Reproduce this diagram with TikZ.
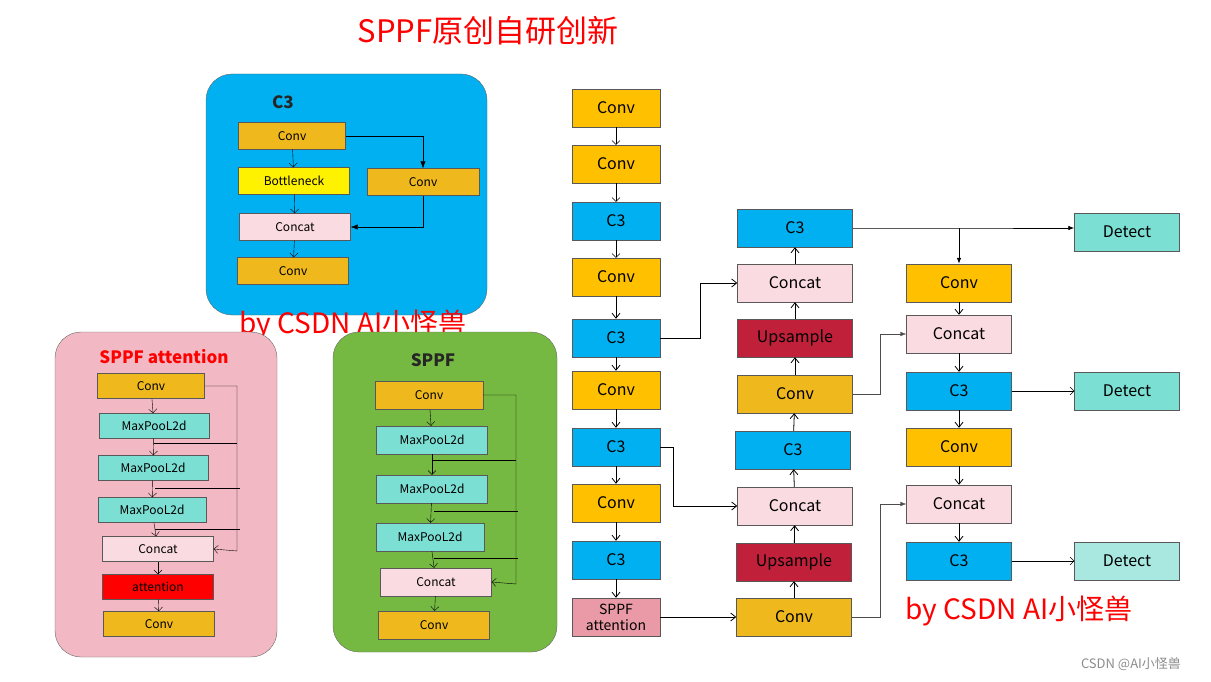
\documentclass[tikz,border=0pt]{standalone}
\usepackage{fontspec}
\setmainfont{Noto Sans CJK SC}
\usetikzlibrary{arrows.meta, positioning}
\definecolor{cthree}{RGB}{0,176,240}
\definecolor{convy}{RGB}{255,192,0}
\definecolor{convo}{RGB}{239,185,30}
\definecolor{concatc}{RGB}{250,219,225}
\definecolor{upc}{RGB}{192,32,58}
\definecolor{detc}{RGB}{124,223,212}
\definecolor{detl}{RGB}{168,232,225}
\definecolor{sppfa}{RGB}{233,154,166}
\definecolor{pinkp}{RGB}{242,185,196}
\definecolor{greenp}{RGB}{118,185,66}
\tikzstyle{big} = [rectangle, draw=black!65, inner sep=0pt, minimum height=38pt, align=center, font=\fontsize{16}{17}\selectfont]
\tikzstyle{small} = [rectangle, draw=black!65, inner sep=0pt, minimum width=110pt, minimum height=27pt, font=\fontsize{12}{13}\selectfont]
\tikzstyle{panel} = [draw=black!60, rounded corners=26pt]
\tikzstyle{arrow} = [-{Straight Barb[length=5pt,width=8pt]}, thick]
\tikzstyle{tarrow} = [-{Straight Barb[length=4pt,width=8pt]}]
\tikzstyle{wmark} = [text=red, font=\fontsize{28}{30}\selectfont]

\begin{document}
\begin{tikzpicture}[x=1pt, y=-1pt]
                \useasboundingbox (0,0) rectangle (1211,682);
                \node[text=red, font=\fontsize{31}{33}\selectfont] (title) at (488,31) {SPPF原创自研创新};
                % C3 panel
                \draw[panel, fill=cthree] (206,74) rectangle (487,315);
                \node[font=\bfseries\fontsize{17}{18}\selectfont, text=black!85] (ctitle) at (283,102) {C3};
                \node[small, fill=convo, minimum width=107pt] (cconv) at (292,136) {Conv};
                \node[small, fill=yellow, minimum width=111pt] (cbot) at (294,181) {Bottleneck};
                \node[small, fill=convo, minimum width=112pt] (cconvr) at (423,182) {Conv};
                \node[small, fill=concatc, minimum width=111pt] (ccat) at (295,227) {Concat};
                \node[small, fill=convo, minimum width=111pt] (cout) at (293,271) {Conv};
                \draw[tarrow] (cconv) -- (cbot);
                \draw[tarrow] (cbot) -- (ccat);
                \draw[tarrow] (ccat) -- (cout);
                \draw[-{Latex[length=7pt]}] (cconv.east) -| (cconvr.north);
                \draw[-{Latex[length=7pt]}] (cconvr.south) |- (ccat.east);
                \node[wmark] (mark1) at (353,325) {by CSDN AI小怪兽};
                % SPPF attention panel
                \draw[panel, fill=pinkp] (55,332) rectangle (277,657);
                \node[text=red, font=\bfseries\fontsize{17}{18}\selectfont] (atitle) at (164,357) {SPPF attention};
                \node[small, fill=convo, minimum width=107pt, minimum height=25pt] (aconv) at (151,386) {Conv};
                \node[small, fill=detc, minimum height=25pt] (amp1) at (154,426) {MaxPooL2d};
                \node[small, fill=detc, minimum height=25pt] (amp2) at (153,468) {MaxPooL2d};
                \node[small, fill=detc, minimum width=108pt, minimum height=25pt] (amp3) at (152,510) {MaxPooL2d};
                \node[small, fill=concatc, minimum width=111pt, minimum height=25pt] (acat) at (158,549) {Concat};
                \node[small, fill=red, minimum width=111pt, minimum height=25pt] (aatt) at (158,587) {attention};
                \node[small, fill=convo, minimum width=111pt, minimum height=25pt] (aout) at (159,624) {Conv};
                \draw[tarrow] (aconv) -- (amp1);
                \draw[tarrow] (amp1) -- (amp2);
                \draw[tarrow] (amp2) -- (amp3);
                \draw[tarrow] (amp3) -- (acat);
                \draw[tarrow] (acat) -- (aatt);
                \draw[tarrow] (aatt) -- (aout);
                \draw[tarrow] (aconv.east) -| (237,551) -- (acat.east);
                \draw (154,443) -- (237,443);
                \draw (155,488) -- (240,488);
                \draw (155,529) -- (240,529);
                % SPPF panel
                \draw[panel, fill=greenp] (333,332) rectangle (557,652);
                \node[font=\bfseries\fontsize{17}{18}\selectfont, text=black!85] (stitle) at (433,360) {SPPF};
                \node[small, fill=convo, minimum width=108pt, minimum height=28pt] (sconv) at (429,395) {Conv};
                \node[small, fill=detc, minimum width=111pt, minimum height=28pt] (smp1) at (432,440) {MaxPooL2d};
                \node[small, fill=detc, minimum width=111pt, minimum height=28pt] (smp2) at (432,489) {MaxPooL2d};
                \node[small, fill=detc, minimum width=108pt, minimum height=28pt] (smp3) at (430,537) {MaxPooL2d};
                \node[small, fill=concatc, minimum width=111pt, minimum height=28pt] (scat) at (436,582) {Concat};
                \node[small, fill=convo, minimum width=111pt, minimum height=28pt] (sout) at (434,625) {Conv};
                \draw[tarrow] (sconv) -- (smp1);
                \draw[tarrow] (smp1) -- (smp2);
                \draw[tarrow] (smp2) -- (smp3);
                \draw[tarrow] (smp3) -- (scat);
                \draw[tarrow] (scat) -- (sout);
                \draw[tarrow] (sconv.east) -| (516,584) -- (scat.east);
                \draw (432,460) -- (516,460);
                \draw (434,511) -- (518,511);
                \draw (434,558) -- (518,558);
                % backbone
                \node[big, fill=convy, minimum width=88pt] (b1) at (616,108) {Conv};
                \node[big, fill=convy, minimum width=88pt] (b2) at (616,164) {Conv};
                \node[big, fill=cthree, minimum width=88pt] (b3) at (616,221) {C3};
                \node[big, fill=convy, minimum width=88pt] (b4) at (616,277) {Conv};
                \node[big, fill=cthree, minimum width=88pt] (b5) at (616,338) {C3};
                \node[big, fill=convy, minimum width=88pt] (b6) at (616,390) {Conv};
                \node[big, fill=cthree, minimum width=88pt] (b7) at (616,447) {C3};
                \node[big, fill=convy, minimum width=88pt] (b8) at (616,503) {Conv};
                \node[big, fill=cthree, minimum width=88pt] (b9) at (616,560) {C3};
                \node[big, fill=sppfa, minimum width=88pt, font=\fontsize{14}{16}\selectfont] (b10) at (616,617) {SPPF\\attention};
                \draw[tarrow] (b1) -- (b2);
                \draw[tarrow] (b2) -- (b3);
                \draw[tarrow] (b3) -- (b4);
                \foreach \i/\j in {4/5, 5/6, 6/7, 7/8, 8/9, 9/10}
                    \draw[arrow] (b\i) -- (b\j);
                % neck
                \node[big, fill=cthree, minimum width=115pt] (n1) at (795,228) {C3};
                \node[big, fill=concatc, minimum width=115pt] (n2) at (795,283) {Concat};
                \node[big, fill=upc, minimum width=115pt] (n3) at (795,338) {Upsample};
                \node[big, fill=convo, minimum width=115pt] (n4) at (795,394) {Conv};
                \node[big, fill=cthree, minimum width=115pt] (n5) at (793,450) {C3};
                \node[big, fill=concatc, minimum width=115pt] (n6) at (795,506) {Concat};
                \node[big, fill=upc, minimum width=115pt] (n7) at (794,562) {Upsample};
                \node[big, fill=convo, minimum width=115pt] (n8) at (794,617) {Conv};
                \foreach \i/\j in {8/7, 7/6, 6/5, 5/4, 4/3, 3/2, 2/1}
                    \draw[arrow] (n\i) -- (n\j);
                \draw[arrow] (b5.east) -- (700,338) |- (n2.west);
                \draw[arrow] (b7.east) -- (673,447) |- (n6.west);
                \draw[arrow] (b10.east) -- (n8.west);
                % head
                \node[big, fill=convy, minimum width=105pt] (h1) at (959,283) {Conv};
                \node[big, fill=concatc, minimum width=105pt] (h2) at (959,334) {Concat};
                \node[big, fill=cthree, minimum width=105pt] (h3) at (959,391) {C3};
                \node[big, fill=convy, minimum width=105pt] (h4) at (959,447) {Conv};
                \node[big, fill=concatc, minimum width=105pt] (h5) at (959,504) {Concat};
                \node[big, fill=cthree, minimum width=105pt] (h6) at (959,561) {C3};
                \foreach \i/\j in {1/2, 2/3, 3/4, 4/5, 5/6}
                    \draw[arrow] (h\i) -- (h\j);
                \draw[-{Latex[length=6pt]}, draw=black!70] (n4.east) -- (880,394) |- (h2.west);
                \draw[-{Latex[length=6pt]}, draw=black!70] (n8.east) -- (880,617) |- (h5.west);
                \node[big, fill=detc, minimum width=105pt] (d1) at (1127,232) {Detect};
                \node[big, fill=detc, minimum width=105pt] (d2) at (1127,391) {Detect};
                \node[big, fill=detl, minimum width=105pt] (d3) at (1127,561) {Detect};
                \coordinate (split) at (959,228);
                \draw[-{Latex[length=6pt]}, thick] (n1.east) -- (split) -- (d1.west |- split);
                \draw[-{Latex[length=6pt]}, thick] (split) -- (h1.north);
                \draw[tarrow] (h3.east) -- (d2.west);
                \draw[tarrow] (h6.east) -- (d3.west);
                \node[wmark] (mark2) at (1019,611) {by CSDN AI小怪兽};
                \node[text=black!45, font=\fontsize{13}{14}\selectfont] (foot) at (1131,664) {CSDN @AI小怪兽};
\end{tikzpicture}
\end{document}
